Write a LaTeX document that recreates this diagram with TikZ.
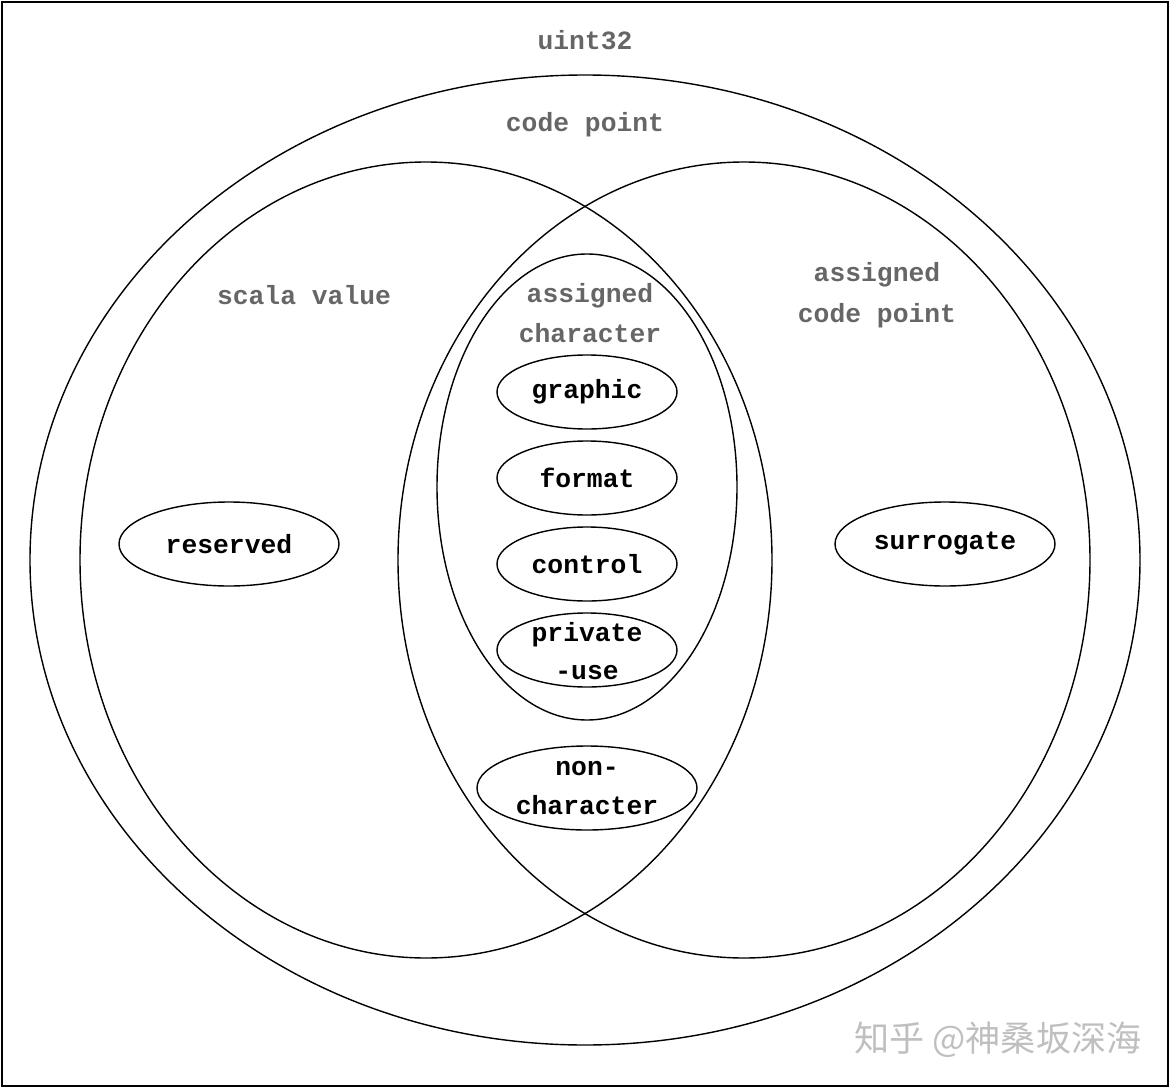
\documentclass[tikz,border=0pt]{standalone}
\usepackage{fontspec}
\setmonofont{Liberation Mono}
\newfontfamily\cjk{Noto Sans CJK SC}
\begin{document}
\begin{tikzpicture}[x=0.02cm,y=-0.02cm,
  ln/.style={draw=black,line width=0.8pt},
  gl/.style={font=\ttfamily\bfseries\fontsize{15}{23}\selectfont,text=black!60,align=center},
  bl/.style={font=\ttfamily\bfseries\fontsize{15}{22}\selectfont,text=black,align=center}]
\useasboundingbox (0,0) rectangle (1170,1088);
\draw[ln] (2,2) rectangle (1168,1086);
\draw[ln] (585,560) ellipse [x radius=555,y radius=485];
\draw[ln] (426,560) ellipse [x radius=346,y radius=398];
\draw[ln] (744,560) ellipse [x radius=346,y radius=398];
\draw[ln] (587,487) ellipse [x radius=150,y radius=233];
\foreach \n/\y in {g/392,f/478,c/564,p/650}{\draw[ln] (587,\y) ellipse [x radius=90,y radius=37];}
\draw[ln] (587,788) ellipse [x radius=110,y radius=42];
\draw[ln] (229,544) ellipse [x radius=110,y radius=42];
\draw[ln] (945,544) ellipse [x radius=110,y radius=42];
\node[gl] (u) at (585,40) {uint32};
\node[gl] (cp) at (585,125) {code point};
\node[gl] (sv) at (304,295) {scala value};
\node[gl] (ac) at (590,313) {assigned\\character};
\node[gl] (acp) at (877,295) {assigned\\code point};
\node[bl] (graphic) at (587,392) {graphic};
\node[bl] (format) at (587,478) {format};
\node[bl] (control) at (587,564) {control};
\node[bl] (private) at (587,651) {private\\-use};
\node[bl] (non) at (587,788) {non-\\character};
\node[bl] (reserved) at (229,544) {reserved};
\node[bl] (surrogate) at (945,544) {surrogate};
\node[font=\cjk\fontsize{20}{24}\selectfont,text=black!25] (wm) at (998,1040) {知乎 @神桑坂深海};
\end{tikzpicture}
\end{document}
